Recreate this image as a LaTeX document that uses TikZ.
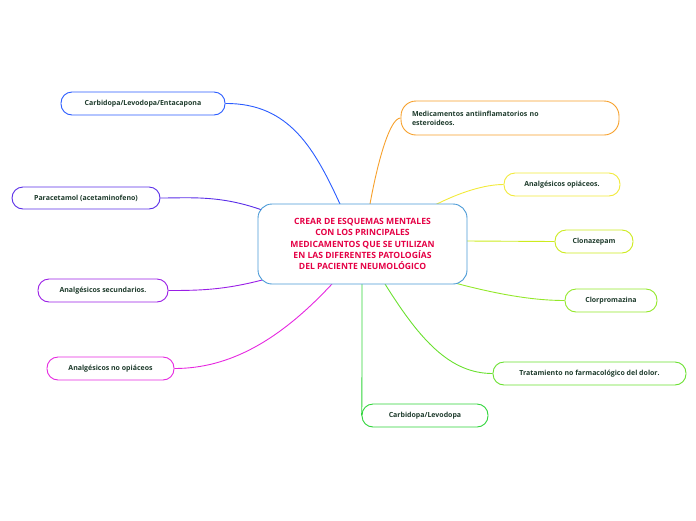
\documentclass[tikz,border=0pt]{standalone}
\usepackage{fontspec}
\setmainfont{Open Sans}
\begin{document}
\begin{tikzpicture}[x=1pt,y=-1pt,
  leaf/.style={draw, line width=0.9pt, rounded corners=11pt, fill=white, font=\fontsize{7}{9}\selectfont\bfseries, align=center, inner sep=0pt},
  con/.style={line width=0.9pt}]
\useasboundingbox (0,0) rectangle (696,520);
\definecolor{tc}{HTML}{1E3B2C}
\definecolor{cb}{HTML}{4A9AD6}
\definecolor{c1}{HTML}{2A5CFF}
\definecolor{c2}{HTML}{5A2EE8}
\definecolor{c3}{HTML}{9A1EE6}
\definecolor{c4}{HTML}{E628E0}
\definecolor{c5}{HTML}{F7A02A}
\definecolor{c6}{HTML}{F2EA3A}
\definecolor{c7}{HTML}{CDEB1E}
\definecolor{c8}{HTML}{93E82A}
\definecolor{c9}{HTML}{6AE030}
\definecolor{c10}{HTML}{2FD43A}
\tikzset{leaf/.append style={text=tc}}
\coordinate (s1) at (340,204); \coordinate (s2) at (262,210); \coordinate (s3) at (266,279);
\coordinate (s4) at (332,284); \coordinate (s5) at (370,204); \coordinate (s6) at (433,206);
\coordinate (s7) at (467,241); \coordinate (s8) at (455,283); \coordinate (s9) at (385,284);
\coordinate (s10) at (362,284);
\node[leaf, draw=c1, minimum width=164pt, minimum height=23pt] (n1) at (143,103.5) {Carbidopa/Levodopa/Entacapona};
\node[leaf, draw=c2, minimum width=148pt, minimum height=22pt] (n2) at (86,198) {Paracetamol (acetaminofeno)};
\node[leaf, draw=c3, minimum width=130pt, minimum height=23pt] (n3) at (103,290.5) {Analgésicos secundarios.};
\node[leaf, draw=c4, minimum width=127pt, minimum height=23pt] (n4) at (110.5,368.5) {Analgésicos no opiáceos};
\node[leaf, draw=c5, minimum width=218pt, minimum height=34pt, text width=196pt, align=left, rounded corners=15pt] (n5) at (510,118) {Medicamentos antiinflamatorios no\\esteroideos.};
\node[leaf, draw=c6, minimum width=116pt, minimum height=23pt] (n6) at (562,184.5) {Analgésicos opiáceos.};
\node[leaf, draw=c7, minimum width=78pt, minimum height=23pt] (n7) at (594,241.5) {Clonazepam};
\node[leaf, draw=c8, minimum width=92pt, minimum height=23pt] (n8) at (611,300.5) {Clorpromazina};
\node[leaf, draw=c9, minimum width=193pt, minimum height=23pt] (n9) at (589.5,373.5) {Tratamiento no farmacológico del dolor.};
\node[leaf, draw=c10, minimum width=126pt, minimum height=23pt] (n10) at (425,415.5) {Carbidopa/Levodopa};
\begin{scope}[on background layer/.try]
\draw[con,c1] (s1) .. controls (315,150) and (290,103) .. (n1.east);
\draw[con,c2] (s2) .. controls (220,195) and (190,198) .. (n2.east);
\draw[con,c3] (s3) .. controls (225,290) and (200,290.5) .. (n3.east);
\draw[con,c4] (s4) .. controls (280,340) and (230,368.5) .. (n4.east);
\draw[con,c5] (s5) .. controls (378,160) and (390,118) .. (n5.west);
\draw[con,c6] (s6) .. controls (460,192) and (485,184.5) .. (n6.west);
\draw[con,c7] (s7) -- (n7.west);
\draw[con,c8] (s8) .. controls (500,295) and (535,300.5) .. (n8.west);
\draw[con,c9] (s9) .. controls (420,340) and (450,373.5) .. (n9.west);
\draw[con,c10] (s10) .. controls (362,360) and (362,415.5) .. (n10.west);
\end{scope}
\node[draw=cb, line width=0.9pt, rounded corners=14pt, fill=white, minimum width=209pt, minimum height=80pt, align=center, text=red!70!magenta!90!black, font=\fontsize{8.6}{11.3}\selectfont\bfseries] (c) at (362.5,244) {CREAR DE ESQUEMAS MENTALES\\CON LOS PRINCIPALES\\MEDICAMENTOS QUE SE UTILIZAN\\EN LAS DIFERENTES PATOLOGÍAS\\DEL PACIENTE NEUMOLÓGICO};
\end{tikzpicture}
\end{document}
